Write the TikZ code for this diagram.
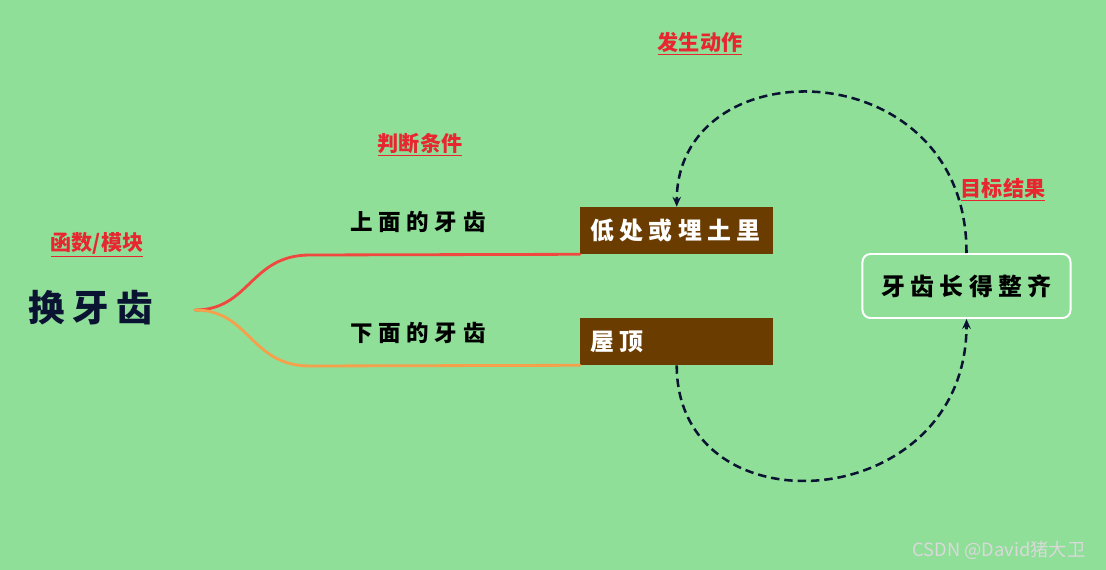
\documentclass[tikz,border=0pt]{standalone}
\usepackage{fontspec}
\newfontfamily\cjk{Noto Sans CJK SC}
\usetikzlibrary{
  arrows.meta,
  positioning, calc
}
\definecolor{bggreen}{RGB}{143,223,153}
\definecolor{boxbrown}{RGB}{107,60,0}
\definecolor{darknavy}{RGB}{10,20,50}
\definecolor{lblred}{RGB}{232,38,48}
\definecolor{linered}{RGB}{240,72,62}
\definecolor{lineorange}{RGB}{245,160,75}
\tikzset{
  tagnode/.style={font=\cjk\bfseries\fontsize{15}{18}\selectfont,text=lblred,inner sep=1pt},
  leafnode/.style={font=\cjk\bfseries\fontsize{16}{19}\selectfont\addfontfeature{LetterSpace=25},text=black},
  actnode/.style={rectangle,fill=boxbrown,anchor=west,text width=4.3cm,align=left,
    minimum height=1.175cm,inner xsep=0.26cm,text=white,
    font=\cjk\bfseries\fontsize{17}{20}\selectfont\addfontfeature{LetterSpace=22}},
  goalnode/.style={rectangle,rounded corners=0.2cm,draw=white,line width=1.4pt,
    minimum width=5.2cm,minimum height=1.6cm,text=black,
    font=\cjk\bfseries\fontsize{17}{20}\selectfont\addfontfeature{LetterSpace=22}},
  branch/.style={line width=2pt,line cap=round},
  flow/.style={-{Stealth[length=7pt,width=6pt]},dash pattern=on 6pt off 3.5pt,
    line width=1.8pt,draw=darknavy}
}

\begin{document}
\begin{tikzpicture}[x=0.025cm,y=-0.025cm]

  \fill[bggreen] (0,0) rectangle (1106,570);
  \useasboundingbox (0,0) rectangle (1106,570);

  % root
  \node[font=\cjk\bfseries\fontsize{26}{30}\selectfont\addfontfeature{LetterSpace=20},text=darknavy] (root) at (91,308) {换牙齿};
  \node[tagnode] (lblfunc) at (97,245) {\underline{函数/模块}};
  \coordinate (fork) at (195,310);

  % conditions
  \node[leafnode] (upper) at (418,222) {上面的牙齿};
  \node[leafnode] (lower) at (418,333) {下面的牙齿};
  \node[tagnode] (lblcond) at (420,145) {\underline{判断条件}};

  % actions
  \node[actnode] (act1) at (580,230.5) {低处或埋土里};
  \node[actnode] (act2) at (580,341.5) {屋顶};
  \node[tagnode] (lblact) at (700,44) {\underline{发生动作}};

  % result
  \node[goalnode] (goal) at (966.5,286) {牙齿长得整齐};
  \node[tagnode] (lblgoal) at (1003,190) {\underline{目标结果}};

  \draw[branch,linered] (fork) .. controls (250,310) and (250,255) .. (310,255) -- (act1.south west);
  \draw[branch,lineorange] (fork) .. controls (250,310) and (250,366) .. (310,366) -- (act2.south west);

  \draw[flow] (goal.north) .. controls (967,50) and (677,45) .. (act1.north);
  \draw[flow] (act2.south) .. controls (677,535) and (967,515) .. (goal.south);

  % Label
  \node[font=\cjk\fontsize{13}{15}\selectfont,text=white!85!black] (mark) at (999,550) {CSDN @David猪大卫};

\end{tikzpicture}
\end{document}
